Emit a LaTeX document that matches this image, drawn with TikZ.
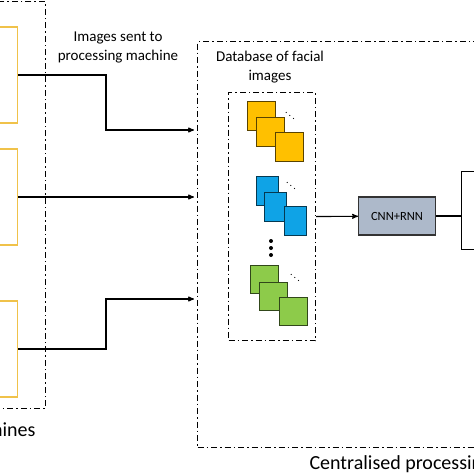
\documentclass[tikz,border=0pt]{standalone}
\usepackage{fontspec}
\setmainfont{Carlito}
\usetikzlibrary{arrows,positioning}
\definecolor{camyellow}{HTML}{F0C24A}
\definecolor{faceyellow}{HTML}{FFC000}
\definecolor{faceblue}{HTML}{0FA3E6}
\definecolor{facegreen}{HTML}{8DCB4A}
\definecolor{cnngrey}{HTML}{ADB9CA}

\begin{document}
\begin{tikzpicture}[x=1pt,y=-1pt,>=stealth',line width=1.1pt,
        dashdot/.style={draw,line width=1.1pt,dash pattern=on 6pt off 3pt on 1.5pt off 3pt,inner sep=0pt},
        cam/.style={draw=camyellow,line width=1.3pt,minimum width=80pt,minimum height=96pt,anchor=east},
        img/.style={draw=#1!35!black,fill=#1,line width=1pt,inner sep=0pt,anchor=north west},
        lbl/.style={align=center,font=\fontsize{15}{19}\selectfont},
        biglbl/.style={font=\fontsize{20}{24}\selectfont,inner sep=0pt},
        dotsnode/.style={font=\normalsize,inner sep=0pt}]
        \useasboundingbox (0,0) rectangle (474,474);
        \clip (0,0) rectangle (474,474);
        % capturing side
        \node[dashdot, minimum width=146pt, minimum height=407pt, anchor=north east] (local) at (46,1) {};
        \node[cam] (cam1) at (18,75) {};
        \node[cam] (cam2) at (18,197) {};
        \node[cam] (cam3) at (18,349) {};
        \node[biglbl, anchor=base east] (localname) at (36,436) {machines};
        \node[lbl] (sent) at (118,47) {Images sent to\\processing machine};
        % processing side
        \node[dashdot, minimum width=363pt, minimum height=406pt, anchor=north west] (proc) at (197,41) {};
        \node[biglbl, anchor=base west] (procname) at (309,469) {Centralised processing machine};
        \node[lbl] (dbname) at (270,67) {Database of facial\\images};
        \node[dashdot, minimum width=87pt, minimum height=248pt, anchor=north west] (db) at (228,92) {};
        \foreach \x/\y [count=\i] in {247/101,256/117,275/132}
            \node[img=faceyellow, minimum width=28pt, minimum height=29pt] (yel\i) at (\x,\y) {};
        \foreach \x/\y [count=\i] in {256/176,264/192,284/206}
            \node[img=faceblue, minimum width=22pt, minimum height=29pt] (blu\i) at (\x,\y) {};
        \foreach \x/\y [count=\i] in {250/265,259/282,279/297}
            \node[img=facegreen, minimum width=28pt, minimum height=28pt] (grn\i) at (\x,\y) {};
        \node[dotsnode] at (290,113) {$\ddots$};
        \node[dotsnode] at (291,183) {$\ddots$};
        \node[dotsnode] at (295,275) {$\ddots$};
        \foreach \y in {241,248,255}
            \fill (271,\y) circle (2pt);
        \node[draw=black!80, fill=cnngrey, minimum width=77pt, minimum height=38pt,
            font=\fontsize{12.5}{15}\selectfont] (cnn) at (397,216) {CNN+RNN};
        \node[draw, minimum width=60pt, minimum height=78pt, anchor=north west] (out) at (461,171) {};
        % connectors
        \coordinate (in1) at (194,130);
        \coordinate (in2) at (194,197);
        \coordinate (in3) at (194,299);
        \draw[->] (cam1.east) -- ++(88,0) |- (in1);
        \draw[->] (cam2.east) -- (in2);
        \draw[->] (cam3.east) -- ++(88,0) |- (in3);
        \draw[->] (db.east) -- (cnn);
        \draw (cnn.east) -- (cnn.east -| out.west);
\end{tikzpicture}
\end{document}
